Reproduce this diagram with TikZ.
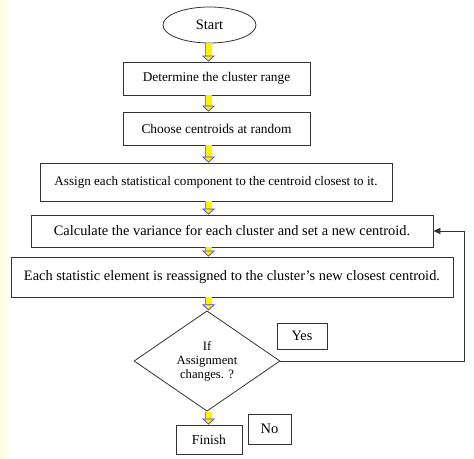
\documentclass[tikz,border=0pt]{standalone}
\usepackage{fontspec}
\setmainfont{Liberation Serif}
\usetikzlibrary{shapes.geometric,arrows.meta}
\tikzset{
  box/.style={draw=black!80, line width=0.8pt, fill=white, inner sep=0pt, anchor=center},
  yarrow/.style={draw=yellow, line width=6pt,
    -{Triangle[length=6pt, width=13pt, line width=0.7pt, fill=yellow, color=blue!75]},
    preaction={draw=black!45, line width=7.4pt, shorten >=6pt, arrows=-}},
  loopline/.style={draw=black!80, line width=0.8pt, -{Triangle[length=7pt, width=6pt]}}
}
\begin{document}
\begin{tikzpicture}[x=1pt, y=-1pt]
\useasboundingbox (0,0) rectangle (474,458);
\shade[left color=yellow!12, right color=white] (0,0) rectangle (11,458);
\coordinate (ax) at (208.5,0);
\node[box, ellipse, minimum width=93pt, minimum height=36pt, font=\fontsize{14.4}{16}\selectfont] (start) at (209.5,25) {Start};
\node[box, minimum width=187pt, minimum height=33pt, font=\fontsize{13.3}{15}\selectfont] (b1) at (216.5,78.5) {Determine the cluster range};
\node[box, minimum width=187pt, minimum height=33pt, font=\fontsize{13.4}{15}\selectfont] (b2) at (216.5,128.5) {Choose centroids at random};
\node[box, minimum width=352pt, minimum height=38pt, font=\fontsize{13.1}{15}\selectfont] (b3) at (216,182) {Assign each statistical component to the centroid closest to it.};
\node[box, minimum width=402pt, minimum height=32pt, font=\fontsize{14.4}{16}\selectfont] (b4) at (232,231) {Calculate the variance for each cluster and set a new centroid.};
\node[box, minimum width=442pt, minimum height=40pt, font=\fontsize{14.4}{16}\selectfont] (b5) at (232,277) {Each statistic element is reassigned to the cluster's new closest centroid.};
\node[box, diamond, minimum width=146pt, minimum height=92pt, align=center, font=\fontsize{12.7}{14}\selectfont] (dia) at (207,361) {If\\Assignment\\changes. ?};
\node[box, minimum width=50pt, minimum height=26pt, font=\fontsize{14.3}{16}\selectfont] (yes) at (302,336) {Yes};
\node[box, minimum width=66pt, minimum height=29pt, font=\fontsize{13.6}{16}\selectfont] (fin) at (209,439.5) {Finish};
\node[box, minimum width=43pt, minimum height=30pt, font=\fontsize{14.5}{16}\selectfont] (no) at (269.5,429) {No};
\coordinate (loopc) at (464,361);
\draw[yarrow] (start.south -| ax) -- (b1.north -| ax);
\draw[yarrow] (b1.south -| ax) -- (b2.north -| ax);
\draw[yarrow] (b2.south -| ax) -- (b3.north -| ax);
\draw[yarrow] (b3.south -| ax) -- (b4.north -| ax);
\draw[yarrow] (b4.south -| ax) -- (b5.north -| ax);
\draw[yarrow] (b5.south -| ax) -- (dia.north -| ax);
\draw[yarrow] (dia.south -| ax) -- (fin.north -| ax);
\draw[loopline] (dia.east) -- (loopc) |- (b4.east);
\end{tikzpicture}
\end{document}
